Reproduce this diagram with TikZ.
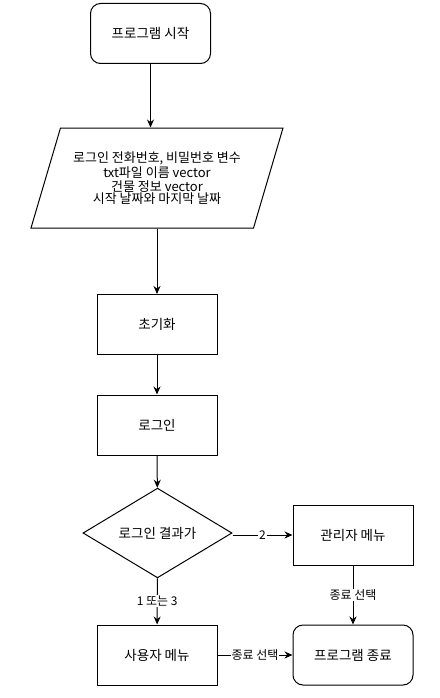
\documentclass[tikz,border=0pt]{standalone}
\usepackage{fontspec}
\setmainfont{Noto Sans CJK KR}
\usepackage{tikz}
\usetikzlibrary{shapes.geometric,arrows.meta}
\tikzstyle{term} = [rectangle, draw, rounded corners=10pt, fill=white, minimum width=120pt, minimum height=60pt]
\tikzstyle{proc} = [rectangle, draw, fill=white, minimum width=120pt, minimum height=60pt]
\tikzstyle{io} = [trapezium, draw, fill=white, trapezium left angle=63.43, trapezium right angle=116.57, trapezium stretches body, minimum width=252pt, minimum height=100pt, align=center, font=\fontsize{13}{14.5}\selectfont]
\tikzstyle{decide} = [diamond, draw, fill=white, minimum width=149pt, minimum height=83pt, inner sep=0pt]
\tikzstyle{lbl} = [fill=white, inner sep=1pt, font=\fontsize{12}{13}\selectfont]

\begin{document}
\begin{tikzpicture}[x=1pt,y=-1pt,->,>={Stealth[length=8pt,width=7pt]},line width=1pt,font=\fontsize{13.5}{15}\selectfont]
  \useasboundingbox (0,0) rectangle (439,698);
  \node[term] (Start) at (150.5,33.5) {프로그램 시작};
  \node[io] (Vars) at (157,178) {로그인 전화번호, 비밀번호 변수\\txt파일 이름 vector\\건물 정보 vector\\[-3pt]시작 날짜와 마지막 날짜};
  \node[proc] (Init) at (157,324.5) {초기화};
  \node[proc] (Login) at (157,425) {로그인};
  \node[decide] (Result) at (157.5,533) {로그인 결과가};
  \node[proc] (Admin) at (353,535) {관리자 메뉴};
  \node[proc] (User) at (157,655) {사용자 메뉴};
  \node[term] (End) at (353,655) {프로그램 종료};

  \path (Start) edge (Start |- Vars.north);
  \path (Vars) edge (Init);
  \path (Init) edge (Login);
  \path (Login) edge (Result);
  \path (Result.east |- Admin) edge node[lbl] {2} (Admin);
  \path (Result) edge node[lbl] {1 또는 3} (User);
  \path (Admin) edge node[lbl] {종료 선택} (End);
  \path (User) edge node[lbl] {종료 선택} (End);
\end{tikzpicture}
\end{document}
